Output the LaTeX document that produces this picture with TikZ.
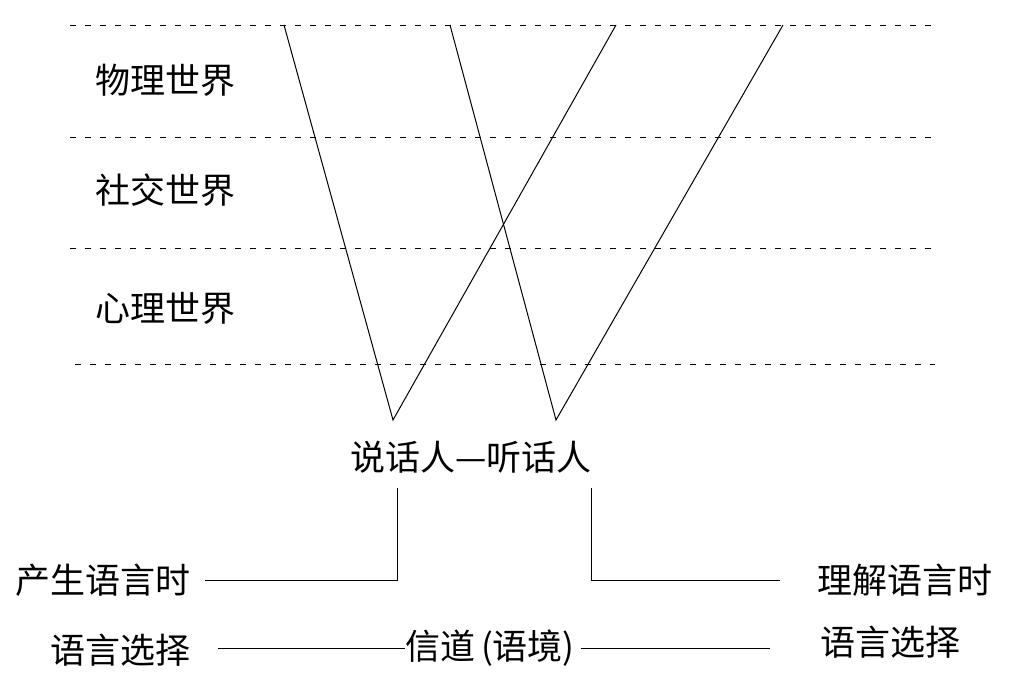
\documentclass[tikz,border=0pt]{standalone}
\usepackage{fontspec}
\setmainfont{Noto Sans CJK SC}
\begin{document}
\begin{tikzpicture}[x=1pt,y=-1pt,
  lbl/.style={font=\fontsize{35}{40}\selectfont, inner sep=0pt},
  dl/.style={dashed, dash pattern=on 6pt off 9pt, line width=0.8pt},
  ln/.style={line width=1pt}]
\useasboundingbox (0,0) rectangle (1022,689);
\foreach \y in {25,137,248} \draw[dl] (70,\y) -- (935,\y);
\draw[dl] (75,364) -- (935,364);
\node[lbl] (w1) at (165,80) {物理世界};
\node[lbl] (w2) at (165,190) {社交世界};
\node[lbl] (w3) at (165,308) {心理世界};
\coordinate (a1) at (284,25); \coordinate (s) at (393,420); \coordinate (a2) at (616,25);
\coordinate (b1) at (450,25); \coordinate (h) at (556,420); \coordinate (b2) at (783,25);
\draw[ln] (a1) -- (s) -- (a2);
\draw[ln] (b1) -- (h) -- (b2);
\node[lbl] (sh) at (471,457) {说话人—听话人};
\node[lbl] (p1) at (103,580) {产生语言时};
\node[lbl] (p2) at (905,580) {理解语言时};
\coordinate (st) at (397,488); \coordinate (ht) at (591,488);
\draw[ln] (st) -- (397,580) -- (p1.east -| 205,0);
\draw[ln] (ht) -- (591,580) -- (p2.west -| 780,0);
\node[lbl] (x1) at (120,650) {语言选择};
\node[lbl] (ch) at (493,648) {信道\,(语境)\,};
\node[lbl] (x2) at (890,642) {语言选择};
\draw[ln] (218,648) -- (ch.west);
\draw[ln] (ch.east) -- (770,648);
\end{tikzpicture}
\end{document}
